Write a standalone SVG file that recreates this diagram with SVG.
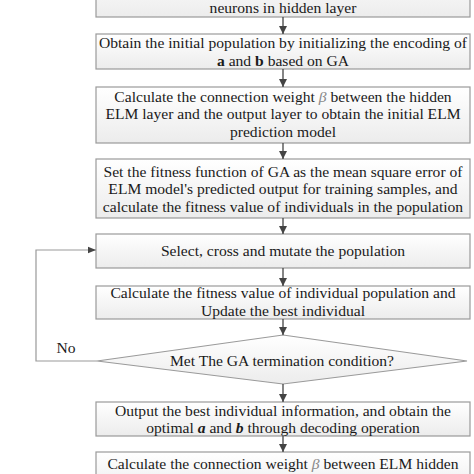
<svg xmlns="http://www.w3.org/2000/svg" width="474" height="474" viewBox="0 0 474 474">
<defs>
<linearGradient id="g" x1="0" y1="0" x2="0" y2="1">
<stop offset="0" stop-color="#ffffff"/>
<stop offset="1" stop-color="#ececec"/>
</linearGradient>
<marker id="ah" viewBox="0 0 10 10" refX="10" refY="5" markerWidth="8" markerHeight="8" markerUnits="userSpaceOnUse" orient="auto">
<path d="M0,0 L10,5 L0,10 z" fill="#444"/>
</marker>
<marker id="ah2" viewBox="0 0 10 10" refX="10" refY="5" markerWidth="9" markerHeight="8" markerUnits="userSpaceOnUse" orient="auto">
<path d="M0,1 L10,5 L0,9 z" fill="#444"/>
</marker>
</defs>
<style>
.box{fill:url(#g);stroke:#9a9a9a;stroke-width:1.2}
.t{font-family:"Liberation Serif","Times New Roman",serif;font-size:15.6px;fill:#1a1a1a;text-anchor:middle}
.c{stroke:#444;stroke-width:1.3;fill:none}
.b{font-weight:bold}
.bi{font-weight:bold;font-style:italic}
.beta{font-style:italic;fill:#888}
</style>
<rect width="474" height="474" fill="#fff"/>
<g id="n1">
<rect class="box" x="96" y="-30" width="374" height="47"/>
<text class="t" x="283" y="13">neurons in hidden layer</text>
</g>
<g id="n2">
<rect class="box" x="96" y="34" width="374" height="35"/>
<text class="t" x="283" y="48">Obtain the initial population by initializing the encoding of</text>
<text class="t" x="283" y="66"><tspan class="b">a</tspan> and <tspan class="b">b</tspan> based on GA</text>
</g>
<g id="n3">
<rect class="box" x="96" y="87" width="374" height="56"/>
<text class="t" x="283" y="102">Calculate the connection weight <tspan class="beta">β</tspan> between the hidden</text>
<text class="t" x="283" y="119">ELM layer and the output layer to obtain the initial ELM</text>
<text class="t" x="283" y="137">prediction model</text>
</g>
<g id="n4">
<rect class="box" x="96" y="159" width="374" height="59"/>
<text class="t" x="283" y="177">Set the fitness function of GA as the mean square error of</text>
<text class="t" x="283" y="194">ELM model's predicted output for training samples, and</text>
<text class="t" x="283" y="212">calculate the fitness value of individuals in the population</text>
</g>
<g id="n5">
<rect class="box" x="96" y="234" width="374" height="34"/>
<text class="t" x="283" y="256">Select, cross and mutate the population</text>
</g>
<g id="n6">
<rect class="box" x="96" y="286" width="374" height="33"/>
<text class="t" x="283" y="298">Calculate the fitness value of individual population and</text>
<text class="t" x="283" y="316">Update the best individual</text>
</g>
<g id="n7">
<polygon class="box" points="283,335 467,361 283,384 97,361"/>
<text class="t" x="282" y="366">Met The GA termination condition?</text>
</g>
<g id="n8">
<rect class="box" x="96" y="402" width="374" height="34"/>
<text class="t" x="283" y="416">Output the best individual information, and obtain the</text>
<text class="t" x="283" y="433">optimal <tspan class="bi">a</tspan> and <tspan class="bi">b</tspan> through decoding operation</text>
</g>
<g id="n9">
<rect class="box" x="96" y="452" width="374" height="40"/>
<text class="t" x="283" y="469">Calculate the connection weight <tspan class="beta">β</tspan> between ELM hidden</text>
</g>
<g id="connectors">
<line class="c" x1="283" y1="17" x2="283" y2="34" marker-end="url(#ah)"/>
<line class="c" x1="283" y1="69" x2="283" y2="87" marker-end="url(#ah)"/>
<line class="c" x1="283" y1="143" x2="283" y2="159" marker-end="url(#ah)"/>
<line class="c" x1="283" y1="218" x2="283" y2="234" marker-end="url(#ah)"/>
<line class="c" x1="283" y1="268" x2="283" y2="286" marker-end="url(#ah)"/>
<line class="c" x1="283" y1="319" x2="283" y2="335" marker-end="url(#ah)"/>
<line class="c" x1="283" y1="384" x2="283" y2="402" marker-end="url(#ah)"/>
<line class="c" x1="283" y1="436" x2="283" y2="452" marker-end="url(#ah)"/>
<polyline style="stroke:#999;stroke-width:1.2;fill:none" points="97,361 36,361 36,250 96,250" marker-end="url(#ah2)"/>
<text class="t" x="66" y="353">No</text>
</g>
</svg>
